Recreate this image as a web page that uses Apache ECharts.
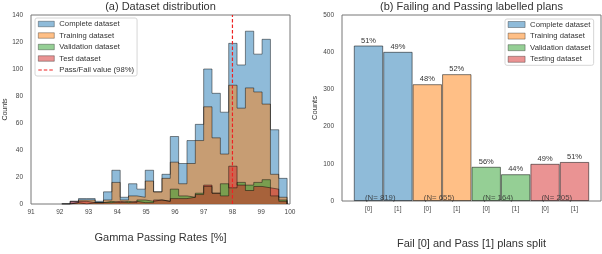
<!DOCTYPE html>
<html><head><meta charset="utf-8">
<script src="https://cdn.jsdelivr.net/npm/echarts@6/dist/echarts.min.js"></script>
<style>html,body{margin:0;padding:0;background:#fff}#c{width:602px;height:254px}</style>
</head><body><div id="c"></div>
<script>
// ---------- (a) histogram data ----------
const binEdges = [92.07, 92.36, 92.65, 92.94, 93.23, 93.52, 93.81, 94.10, 94.39, 94.68, 94.97, 95.26, 95.55, 95.84,
                  96.13, 96.42, 96.71, 97.00, 97.29, 97.58, 97.87, 98.16, 98.45, 98.74, 99.03, 99.32, 99.61, 99.90];
const completeCounts   = [0, 2, 4, 4, 2, 9, 25, 5, 15, 11, 25, 9, 22, 50, 30, 47, 59, 100, 82, 68, 119, 103, 128, 111, 122, 55, 19];
const trainingCounts   = [0, 1, 3, 3, 1, 3, 16, 3, 6, 5, 17, 9, 19, 31, 15, 30, 47, 72, 49, 37, 88, 71, 86, 83, 74, 22, 5];
const validationCounts = [0, 1, 0, 1, 1, 2, 1, 2, 1, 3, 2, 3, 2, 11, 6, 5, 8, 13, 8, 15, 12, 16, 14, 16, 18, 6, 3];
const testCounts       = [0, 2, 2, 1, 1, 1, 2, 1, 2, 1, 1, 3, 2, 4, 4, 5, 7, 14, 8, 6, 28, 14, 10, 13, 12, 11, 2];
const passFailValue = 98;
const histNames = ['Complete dataset', 'Training dataset', 'Validation dataset', 'Test dataset'];
const passFailName = 'Pass/Fail value (98%)';

// ---------- (b) split data ----------
const splitNames = ['Complete dataset', 'Training dataset', 'Validation dataset', 'Testing dataset'];
const failCounts = [418, 314, 92, 100];
const passCounts = [401, 341, 72, 105];
const splitTickLabels = ['[0]', '[1]'];

const fills = ['rgba(31,119,180,0.5)', 'rgba(255,127,14,0.5)', 'rgba(44,160,44,0.5)', 'rgba(214,39,40,0.5)'];
const edge = 'rgba(0,0,0,0.45)';
const FONT = 'Liberation Sans, Arial, sans-serif';

function stepData(counts) {
  const d = [[binEdges[0], 0]];
  counts.forEach((c, i) => d.push([binEdges[i], c]));
  d.push([binEdges[counts.length], 0]);
  return d;
}

const histSeries = [completeCounts, trainingCounts, validationCounts, testCounts].map((c, i) => ({
  type: 'line', name: histNames[i], xAxisIndex: 0, yAxisIndex: 0,
  data: stepData(c), step: 'end', symbol: 'none', silent: true,
  lineStyle: { color: edge, width: 1 },
  areaStyle: { color: fills[i], opacity: 1 },
  itemStyle: { color: fills[i] }, z: 2
}));

const splitSeries = splitNames.map((n, i) => ({
  type: 'bar', name: n, xAxisIndex: 1, yAxisIndex: 1, barWidth: 29.4, barGap: '-100%',
  data: [[2 * i, failCounts[i]], [2 * i + 1, passCounts[i]]],
  itemStyle: { color: fills[i], borderColor: 'rgba(0,0,0,0.5)', borderWidth: 1 },
  label: { show: true, position: 'top', distance: 1, fontSize: 7.5, color: '#333', fontFamily: FONT,
    formatter: p => Math.round(100 * p.value[1] / (failCounts[i] + passCounts[i])) + '%' },
  silent: true
}));

const nSeries = {
  type: 'scatter', name: 'N', xAxisIndex: 1, yAxisIndex: 1, symbolSize: 0, silent: true,
  data: splitNames.map((n, i) => [2 * i + 0.5, 0, failCounts[i] + passCounts[i]]),
  label: { show: true, position: 'inside', offset: [-3, -3.5], fontSize: 7.8, color: '#2a2a2a', fontFamily: FONT,
    formatter: p => '(N= ' + p.value[2] + ')' }, z: 6
};

const axisLabelStyle = { fontSize: 6.5, color: '#444', fontFamily: FONT };

const legendRect = (name, i) => ({ name, icon: 'rect',
  itemStyle: { color: fills[i], borderColor: 'rgba(0,0,0,0.4)', borderWidth: 0.8 } });

const option = {
  animation: false,
  textStyle: { fontFamily: FONT },
  graphic: [
    { type: 'text', x: 160.5, y: 7, style: { text: '(a) Dataset distribution', fontSize: 11, fill: '#333',
      fontFamily: FONT, align: 'center', verticalAlign: 'middle' } },
    { type: 'text', x: 471.5, y: 7, style: { text: '(b) Failing and Passing labelled plans', fontSize: 11, fill: '#333',
      fontFamily: FONT, align: 'center', verticalAlign: 'middle' } }
  ],
  grid: [
    { left: 31, top: 15, width: 259, height: 189, show: true, borderColor: '#777', borderWidth: 1 },
    { left: 342, top: 15, width: 259, height: 189, show: true, borderColor: '#777', borderWidth: 1 }
  ],
  xAxis: [
    { type: 'value', gridIndex: 0, min: 91, max: 100, interval: 1,
      axisLine: { show: false }, axisTick: { show: false }, splitLine: { show: false },
      axisLabel: Object.assign({ margin: 5 }, axisLabelStyle),
      name: 'Gamma Passing Rates [%]', nameLocation: 'middle', nameGap: 28,
      nameTextStyle: { fontSize: 11, color: '#333', fontFamily: FONT } },
    { type: 'value', gridIndex: 1, min: -0.9, max: 7.9,
      axisLine: { show: false }, axisTick: { show: false }, splitLine: { show: false },
      axisLabel: Object.assign({ margin: 5, customValues: [0, 1, 2, 3, 4, 5, 6, 7],
        formatter: v => splitTickLabels[Math.round(v) % 2] }, axisLabelStyle),
      name: 'Fail [0] and Pass [1] plans split', nameLocation: 'middle', nameGap: 37,
      nameTextStyle: { fontSize: 11, color: '#333', fontFamily: FONT } }
  ],
  yAxis: [
    { type: 'value', gridIndex: 0, min: 0, max: 140, interval: 20,
      axisLine: { show: false }, axisTick: { show: false }, splitLine: { show: false },
      axisLabel: Object.assign({ margin: 8 }, axisLabelStyle),
      name: 'Counts', nameLocation: 'middle', nameGap: 22,
      nameTextStyle: { fontSize: 7, color: '#333', fontFamily: FONT } },
    { type: 'value', gridIndex: 1, min: 0, max: 500, interval: 100,
      axisLine: { show: false }, axisTick: { show: false }, splitLine: { show: false },
      axisLabel: Object.assign({ margin: 8 }, axisLabelStyle),
      name: 'Counts', nameLocation: 'middle', nameGap: 23,
      nameTextStyle: { fontSize: 7.5, color: '#333', fontFamily: FONT } }
  ],
  legend: [
    { left: 35, top: 18, orient: 'vertical', itemWidth: 16, itemHeight: 5.5, itemGap: 3.5,
      padding: [2, 3, 2, 2.7], backgroundColor: '#fff', borderColor: '#d6d6d6', borderWidth: 1, borderRadius: 2,
      textStyle: { fontSize: 7.7, color: '#333', fontFamily: FONT }, selectedMode: false,
      data: histNames.map(legendRect).concat([{ name: passFailName, itemStyle: { opacity: 0 },
        lineStyle: { color: '#ee2222', type: [3.5, 2], width: 1.2 } }]) },
    { left: 505, top: 19, orient: 'vertical', itemWidth: 17, itemHeight: 6, itemGap: 3.6,
      padding: [1.5, 3, 2, 2.7], backgroundColor: '#fff', borderColor: '#d6d6d6', borderWidth: 1, borderRadius: 2,
      textStyle: { fontSize: 7.7, color: '#333', fontFamily: FONT }, selectedMode: false,
      data: splitNames.map(legendRect) }
  ],
  series: histSeries.concat([
    { type: 'line', name: passFailName, xAxisIndex: 0, yAxisIndex: 0, silent: true, symbol: 'none',
      data: [[passFailValue, 0], [passFailValue, 140]],
      lineStyle: { color: '#ee2222', type: [3.5, 2], width: 1.2 }, itemStyle: { color: '#ee2222' }, z: 5 }
  ], splitSeries, [nSeries])
};

const chart = echarts.init(document.getElementById('c'), null, { renderer: 'canvas' });
chart.setOption(option);
</script>
</body></html>
